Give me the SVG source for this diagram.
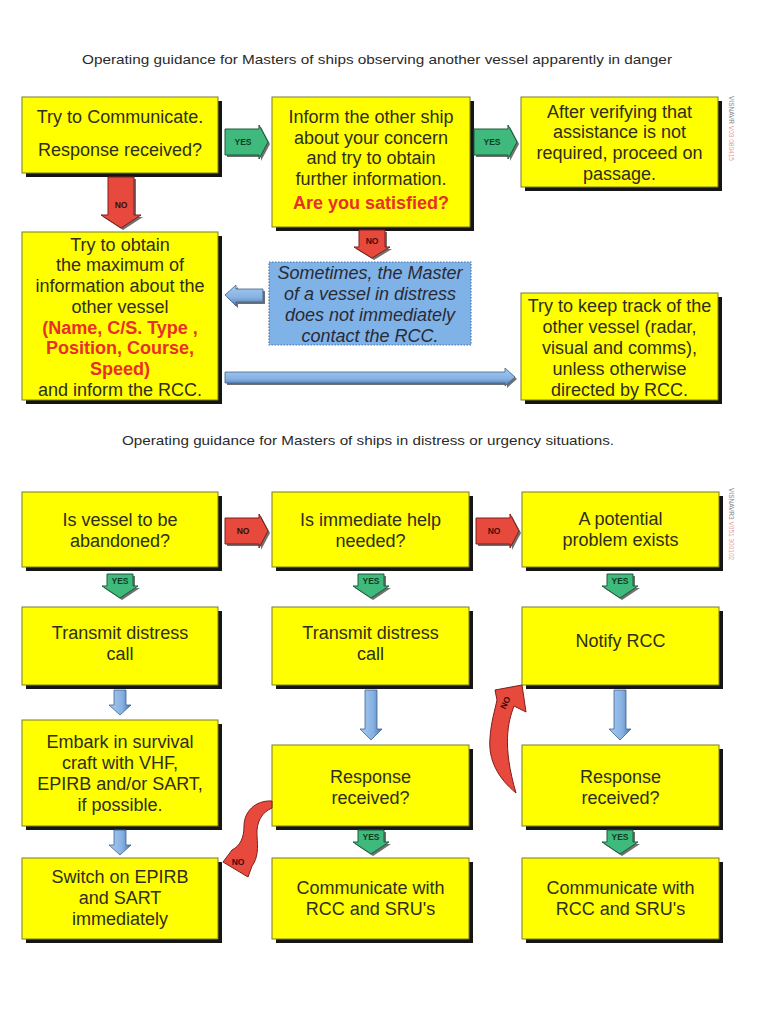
<svg xmlns="http://www.w3.org/2000/svg" width="768" height="1024" viewBox="0 0 768 1024">
<defs>
<style>
.title{font-family:"Liberation Sans",Arial,sans-serif;font-size:13.5px;fill:#2a2a2a;text-anchor:middle}
.sh{fill:#151515}
.bx{fill:#ffff00;stroke:#7a7a30;stroke-width:1}
.t{font-family:"Liberation Sans",Arial,sans-serif;font-size:18px;fill:#2e2e1c;text-anchor:middle}
.red{fill:#e8302a;font-weight:bold}
.it{font-style:italic;fill:#2a2a35}
.yes{fill:#3fba7c;stroke:#1c5a39;stroke-width:1}
.no{fill:#e8493d;stroke:#7a1f1a;stroke-width:1}
.blu{fill:url(#bg);stroke:#3f628f;stroke-width:0.8}
.bluh{fill:url(#bgh);stroke:#3f628f;stroke-width:0.8}
.lab{font-family:"Liberation Sans",Arial,sans-serif;font-size:8.5px;font-weight:bold;text-anchor:middle}
.ly{fill:#0f3a24}
.ln{fill:#3a0e0a}
.ashadow{fill:#333;opacity:0.7}
.code{font-family:"Liberation Sans",Arial,sans-serif;font-size:6.5px;fill:#888}
</style>
<linearGradient id="bg" x1="0" y1="0" x2="1" y2="0">
<stop offset="0" stop-color="#a6cbf0"/><stop offset="0.6" stop-color="#86b1e2"/><stop offset="1" stop-color="#4a76ad"/>
</linearGradient>
<linearGradient id="bgh" x1="0" y1="0" x2="0" y2="1">
<stop offset="0" stop-color="#a6cbf0"/><stop offset="0.6" stop-color="#86b1e2"/><stop offset="1" stop-color="#4a76ad"/>
</linearGradient>
<path id="ra" d="M0,-13 H34 V-17 L43,0 L34,17 V13 H0 Z"/>
<path id="da" d="M-13,0 H13 V12 H18 L0,24 L-18,12 H-13 Z"/>
</defs>
<rect width="768" height="1024" fill="#ffffff"/>

<text class="title" x="377" y="64" textLength="590" lengthAdjust="spacingAndGlyphs">Operating guidance for Masters of ships observing another vessel apparently in danger</text>
<text class="title" x="368" y="445" textLength="492" lengthAdjust="spacingAndGlyphs">Operating guidance for Masters of ships in distress or urgency situations.</text>

<text class="code" transform="translate(729,96) rotate(90)">VISNAVR <tspan fill="#e89a9a">V03 080415</tspan></text>
<text class="code" transform="translate(729,488) rotate(90)">VISNAVR3 <tspan fill="#e89a9a">V051 300102</tspan></text>

<!-- top section nodes -->
<g id="n_communicate">
<rect class="sh" x="26" y="101" width="196" height="76"/>
<rect class="bx" x="22" y="97" width="196" height="76"/>
<text class="t" x="120" y="123">Try to Communicate.</text>
<text class="t" x="120" y="156">Response received?</text>
</g>
<g id="n_inform">
<rect class="sh" x="276" y="101" width="198" height="130"/>
<rect class="bx" x="272" y="97" width="198" height="130"/>
<text class="t" x="371" y="123">Inform the other ship</text>
<text class="t" x="371" y="144">about your concern</text>
<text class="t" x="371" y="164">and try to obtain</text>
<text class="t" x="371" y="185">further information.</text>
<text class="t red" x="371" y="209">Are you satisfied?</text>
</g>
<g id="n_verify">
<rect class="sh" x="525" y="101" width="197" height="90"/>
<rect class="bx" x="521" y="97" width="197" height="90"/>
<text class="t" x="619.5" y="118">After verifying that</text>
<text class="t" x="619.5" y="138">assistance is not</text>
<text class="t" x="619.5" y="159">required, proceed on</text>
<text class="t" x="619.5" y="180">passage.</text>
</g>
<g id="n_obtain">
<rect class="sh" x="26" y="236" width="196" height="168"/>
<rect class="bx" x="22" y="232" width="196" height="168"/>
<text class="t" x="120" y="251">Try to obtain</text>
<text class="t" x="120" y="271">the maximum of</text>
<text class="t" x="120" y="292">information about the</text>
<text class="t" x="120" y="313">other vessel</text>
<text class="t red" x="120" y="334">(Name, C/S. Type ,</text>
<text class="t red" x="120" y="354">Position, Course,</text>
<text class="t red" x="120" y="375">Speed)</text>
<text class="t" x="120" y="396">and inform the RCC.</text>
</g>
<g id="n_sometimes">
<rect x="269" y="262" width="202" height="83" fill="#7fb2e6" stroke="#4f73a8" stroke-width="1.2" stroke-dasharray="1.5 1.5"/>
<text class="t it" x="370" y="279">Sometimes, the Master</text>
<text class="t it" x="370" y="300">of a vessel in distress</text>
<text class="t it" x="370" y="321">does not immediately</text>
<text class="t it" x="370" y="342">contact the RCC.</text>
</g>
<g id="n_track">
<rect class="sh" x="525" y="297" width="197" height="107"/>
<rect class="bx" x="521" y="293" width="197" height="107"/>
<text class="t" x="619.5" y="312">Try to keep track of the</text>
<text class="t" x="619.5" y="333">other vessel (radar,</text>
<text class="t" x="619.5" y="354">visual and comms),</text>
<text class="t" x="619.5" y="375">unless otherwise</text>
<text class="t" x="619.5" y="396">directed by RCC.</text>
</g>

<!-- bottom section nodes -->
<g id="n_abandon">
<rect class="sh" x="26" y="496" width="196" height="75"/>
<rect class="bx" x="22" y="492" width="196" height="75"/>
<text class="t" x="120" y="526">Is vessel to be</text>
<text class="t" x="120" y="547">abandoned?</text>
</g>
<g id="n_immediate">
<rect class="sh" x="276" y="496" width="197" height="75"/>
<rect class="bx" x="272" y="492" width="197" height="75"/>
<text class="t" x="370.5" y="526">Is immediate help</text>
<text class="t" x="370.5" y="547">needed?</text>
</g>
<g id="n_potential">
<rect class="sh" x="526" y="496" width="197" height="75"/>
<rect class="bx" x="522" y="492" width="197" height="75"/>
<text class="t" x="620.5" y="525">A potential</text>
<text class="t" x="620.5" y="546">problem exists</text>
</g>
<g id="n_transmit1">
<rect class="sh" x="26" y="611" width="196" height="78"/>
<rect class="bx" x="22" y="607" width="196" height="78"/>
<text class="t" x="120" y="639">Transmit distress</text>
<text class="t" x="120" y="660">call</text>
</g>
<g id="n_transmit2">
<rect class="sh" x="276" y="611" width="197" height="78"/>
<rect class="bx" x="272" y="607" width="197" height="78"/>
<text class="t" x="370.5" y="639">Transmit distress</text>
<text class="t" x="370.5" y="660">call</text>
</g>
<g id="n_notify">
<rect class="sh" x="526" y="611" width="197" height="78"/>
<rect class="bx" x="522" y="607" width="197" height="78"/>
<text class="t" x="620.5" y="647">Notify RCC</text>
</g>
<g id="n_embark">
<rect class="sh" x="26" y="724" width="196" height="106"/>
<rect class="bx" x="22" y="720" width="196" height="106"/>
<text class="t" x="120" y="748">Embark in survival</text>
<text class="t" x="120" y="769">craft with VHF,</text>
<text class="t" x="120" y="790">EPIRB and/or SART,</text>
<text class="t" x="120" y="811">if possible.</text>
</g>
<g id="n_response2">
<rect class="sh" x="276" y="749" width="197" height="81"/>
<rect class="bx" x="272" y="745" width="197" height="81"/>
<text class="t" x="370.5" y="783">Response</text>
<text class="t" x="370.5" y="804">received?</text>
</g>
<g id="n_response3">
<rect class="sh" x="526" y="749" width="197" height="81"/>
<rect class="bx" x="522" y="745" width="197" height="81"/>
<text class="t" x="620.5" y="783">Response</text>
<text class="t" x="620.5" y="804">received?</text>
</g>
<g id="n_switch">
<rect class="sh" x="26" y="862" width="196" height="81"/>
<rect class="bx" x="22" y="858" width="196" height="81"/>
<text class="t" x="120" y="883">Switch on EPIRB</text>
<text class="t" x="120" y="904">and SART</text>
<text class="t" x="120" y="925">immediately</text>
</g>
<g id="n_comm2">
<rect class="sh" x="276" y="862" width="197" height="81"/>
<rect class="bx" x="272" y="858" width="197" height="81"/>
<text class="t" x="370.5" y="894">Communicate with</text>
<text class="t" x="370.5" y="915">RCC and SRU's</text>
</g>
<g id="n_comm3">
<rect class="sh" x="526" y="862" width="197" height="81"/>
<rect class="bx" x="522" y="858" width="197" height="81"/>
<text class="t" x="620.5" y="894">Communicate with</text>
<text class="t" x="620.5" y="915">RCC and SRU's</text>
</g>

<g id="connectors">
<!-- top: YES right arrows -->
<use href="#ra" class="ashadow" x="227" y="144"/>
<use href="#ra" class="yes" x="225" y="142"/>
<text class="lab ly" x="243" y="145">YES</text>
<use href="#ra" class="ashadow" x="476" y="144"/>
<use href="#ra" class="yes" x="474" y="142"/>
<text class="lab ly" x="492" y="145">YES</text>
<!-- top: NO down from communicate -->
<path class="ashadow" transform="translate(123,179)" d="M-13,0 H13 V38 H20 L0,51 L-20,38 H-13 Z"/>
<path class="no" transform="translate(121,177)" d="M-13,0 H13 V38 H20 L0,51 L-20,38 H-13 Z"/>
<text class="lab ln" x="121" y="208">NO</text>
<!-- top: NO down from inform -->
<path class="ashadow" transform="translate(374,232)" d="M-13,0 H13 V17 H18 L0,28 L-18,17 H-13 Z"/>
<path class="no" transform="translate(372,230)" d="M-13,0 H13 V17 H18 L0,28 L-18,17 H-13 Z"/>
<text class="lab ln" x="372" y="244">NO</text>
<!-- blue left arrow -->
<path class="ashadow" d="M227,297 L238,287 V291 H265 V304 H238 V308 Z"/>
<path class="bluh" d="M225,295 L236,285 V289 H263 V302 H236 V306 Z"/>
<!-- blue long right arrow -->
<path class="ashadow" d="M227,374 H507 V370 L517,379 L507,388 V385 H227 Z"/>
<path class="bluh" d="M225,372 H505 V368 L515,377 L505,386 V383 H225 Z"/>

<!-- bottom: NO right arrows -->
<use href="#ra" class="ashadow" x="227" y="533"/>
<use href="#ra" class="no" x="225" y="531"/>
<text class="lab ln" x="243" y="534">NO</text>
<use href="#ra" class="ashadow" x="478" y="533"/>
<use href="#ra" class="no" x="476" y="531"/>
<text class="lab ln" x="494" y="534">NO</text>
<!-- YES down row1->row2 -->
<use href="#da" class="ashadow" x="122" y="576"/>
<use href="#da" class="yes" x="120" y="574"/>
<text class="lab ly" x="120" y="584">YES</text>
<use href="#da" class="ashadow" x="373" y="576"/>
<use href="#da" class="yes" x="371" y="574"/>
<text class="lab ly" x="371" y="584">YES</text>
<use href="#da" class="ashadow" x="622" y="576"/>
<use href="#da" class="yes" x="620" y="574"/>
<text class="lab ly" x="620" y="584">YES</text>
<!-- blue down row2->row3 -->
<path class="blu" d="M114,690 H126 V705 H131 L120,715 L109,705 H114 Z"/>
<path class="blu" d="M365,690 H377 V729 H382 L371,740 L360,729 H365 Z"/>
<path class="blu" d="M614,690 H626 V729 H631 L620,740 L609,729 H614 Z"/>
<!-- blue down col1 row3->row4 -->
<path class="blu" d="M114,830 H126 V845 H131 L120,855 L109,845 H114 Z"/>
<!-- YES down row3->row4 -->
<use href="#da" class="ashadow" x="373" y="832"/>
<use href="#da" class="yes" x="371" y="830"/>
<text class="lab ly" x="371" y="840">YES</text>
<use href="#da" class="ashadow" x="622" y="832"/>
<use href="#da" class="yes" x="620" y="830"/>
<text class="lab ly" x="620" y="840">YES</text>
<!-- curved NO: response2 -> switch -->
<path class="no" d="M272,801 C255,800 244,812 244,826 C244,838 240,846 232,850 L223,862 L248,877 L252,866 C258,858 258,848 257,836 C256,822 262,812 272,808 Z"/>
<text class="lab ln" x="238" y="865">NO</text>
<!-- curved NO: response3 -> notify -->
<path class="no" d="M516,793 C498,778 488,760 490,738 C491,722 495,710 497,700 L495,690 L522,685 L526,712 L514,706 C508,722 502,745 516,793 Z"/>
<text class="lab ln" transform="translate(508,704) rotate(-65)">NO</text>
</g>
</svg>
